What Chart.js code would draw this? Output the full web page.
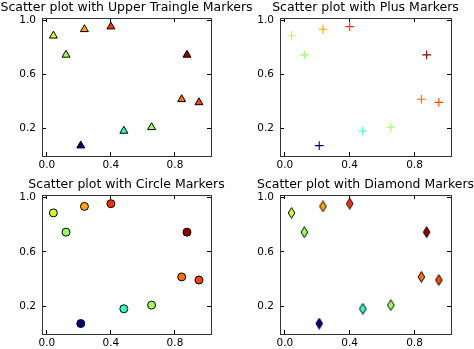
<!DOCTYPE html>
<html><head><meta charset="utf-8">
<script src="https://cdn.jsdelivr.net/npm/chart.js@4"></script>
<style>
html,body{margin:0;padding:0;background:#fff;width:474px;height:349px;overflow:hidden;position:relative}
canvas{position:absolute}
</style></head><body>
<canvas id="c0" width="253" height="176" style="left:0px;top:0px"></canvas>
<canvas id="c1" width="217" height="176" style="left:257px;top:0px"></canvas>
<canvas id="c2" width="253" height="177" style="left:0px;top:177px"></canvas>
<canvas id="c3" width="217" height="177" style="left:257px;top:177px"></canvas>
<script>
// ---- data ----
const xValues = [0.041, 0.12, 0.235, 0.40, 0.875, 0.842, 0.95, 0.654, 0.481, 0.212];
const yValues = [0.888, 0.746, 0.936, 0.956, 0.746, 0.416, 0.393, 0.208, 0.181, 0.072];
const markerColors = ['#ccff33', '#99ff66', '#ffa600', '#ff3300', '#8c0000', '#ff6e00', '#ff4500', '#a0ff5f', '#33ffcc', '#000080'];
const xTicks = [0.0, 0.4, 0.8];
const yTicks = [0.2, 0.6, 1.0];
const titles = ['Scatter plot with Upper Traingle Markers', 'Scatter plot with Plus Markers',
                'Scatter plot with Circle Markers', 'Scatter plot with Diamond Markers'];

const FONT = 'DejaVu Sans';
const XMIN = -0.03, XMAX = 1.025, YMIN = -0.005, YMAX = 1.02;

function thinDiamond(color) {
  const c = document.createElement('canvas');
  c.width = 9; c.height = 12;
  const g = c.getContext('2d');
  g.beginPath();
  g.moveTo(4.5, 0.6); g.lineTo(7.8, 6); g.lineTo(4.5, 11.4); g.lineTo(1.2, 6); g.closePath();
  g.fillStyle = color; g.fill();
  g.lineWidth = 1; g.strokeStyle = '#000'; g.stroke();
  return c;
}

function axis(pos, showLabels, size) {
  const isX = pos === 'bottom' || pos === 'top';
  const tickVals = isX ? xTicks : yTicks;
  return {
    type: 'linear', position: pos, display: true,
    min: isX ? XMIN : YMIN, max: isX ? XMAX : YMAX,
    afterBuildTicks: s => { s.ticks = tickVals.map(v => ({value: v})); },
    afterFit: s => { if (isX) s.height = size; else s.width = size; },
    grid: {drawOnChartArea: false, drawTicks: true, tickLength: -4, color: '#000', lineWidth: 1},
    border: {display: true, color: '#333', width: 1},
    ticks: {display: showLabels, padding: isX ? 7 : 10, color: '#000', autoSkip: false, maxRotation: 0,
            font: {family: FONT, size: 10.5}, callback: v => Number(v).toFixed(1)}
  };
}

function makeChart(id, idx, kind, sideW) {
  const pts = xValues.map((x, i) => ({x: x, y: yValues[i]}));
  const ds = {data: pts, pointBackgroundColor: markerColors, pointBorderColor: '#000', pointBorderWidth: 1};
  if (kind === 'triangle') { ds.pointStyle = 'triangle'; ds.pointRadius = 4.6; }
  if (kind === 'plus') { ds.pointStyle = 'cross'; ds.pointRadius = 4.4; ds.pointBorderColor = markerColors; ds.pointBorderWidth = 1.1; }
  if (kind === 'circle') { ds.pointStyle = 'circle'; ds.pointRadius = 4; }
  if (kind === 'diamond') { ds.pointStyle = markerColors.map(thinDiamond); ds.pointRadius = 6; }
  new Chart(document.getElementById(id), {
    type: 'scatter',
    data: {datasets: [ds]},
    options: {
      responsive: false, animation: false, devicePixelRatio: 1,
      layout: {padding: 0},
      plugins: {
        legend: {display: false}, tooltip: {enabled: false},
        title: {display: true, text: titles[idx], color: '#000',
                font: {family: FONT, size: 12.5, weight: 'normal'}, padding: {top: 0, bottom: 3}}
      },
      scales: {
        x: axis('bottom', true, 20),
        x2: axis('top', false, 0),
        y: axis('left', true, sideW),
        y2: axis('right', false, sideW)
      }
    }
  });
}

makeChart('c0', 0, 'triangle', 42);
makeChart('c1', 1, 'plus', 23);
makeChart('c2', 2, 'circle', 42);
makeChart('c3', 3, 'diamond', 23);
</script>
</body></html>
